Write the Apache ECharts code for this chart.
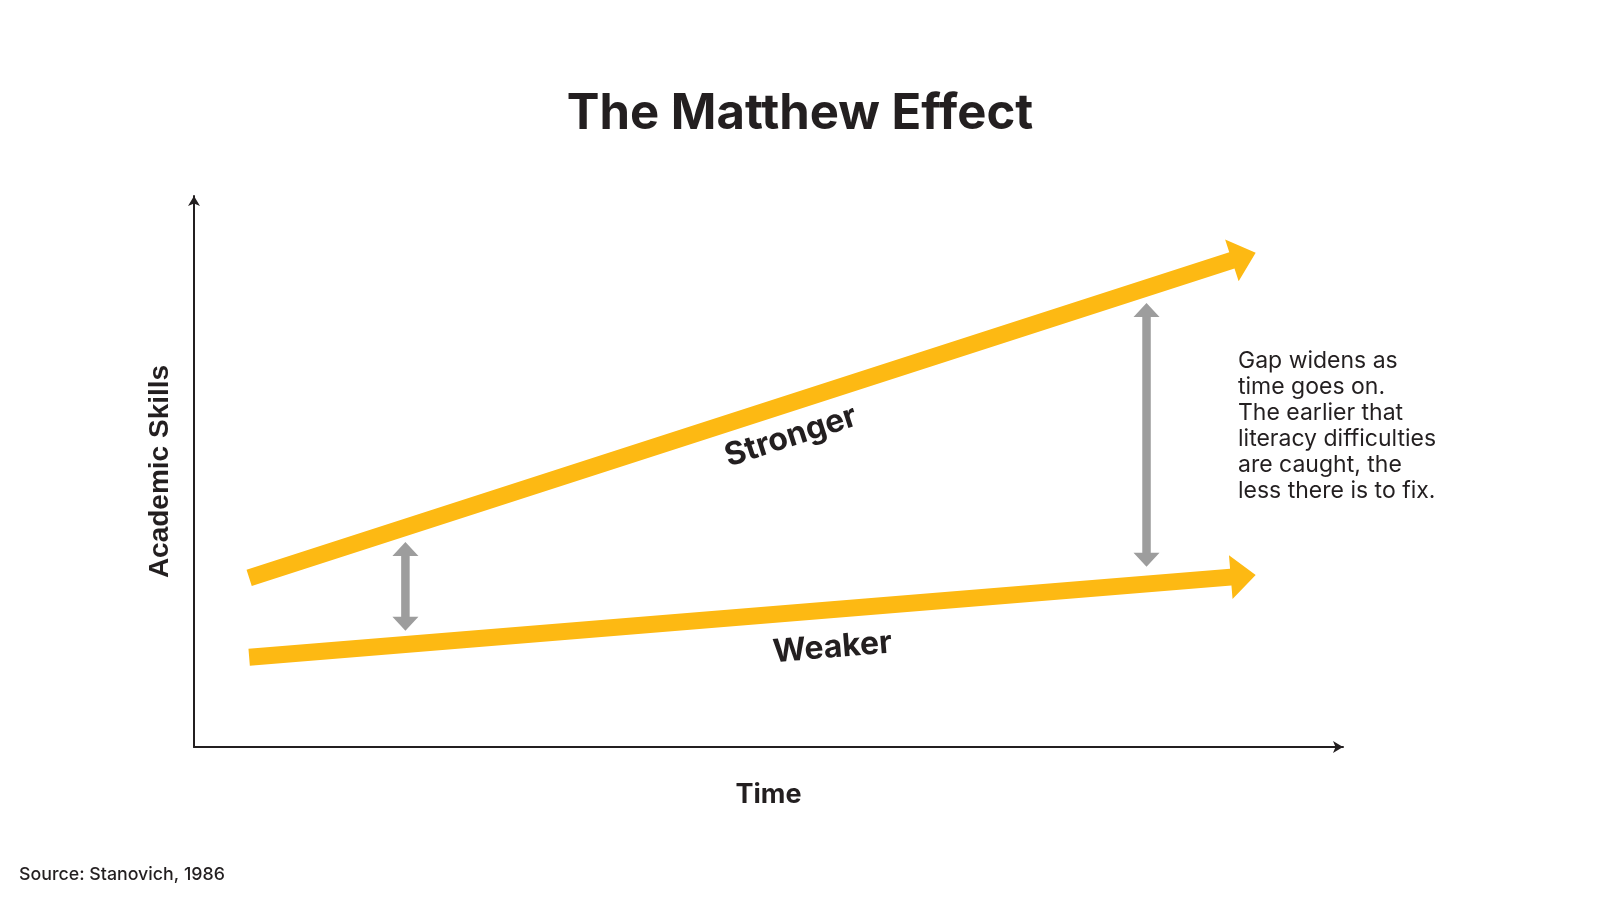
<!DOCTYPE html>
<html>
<head>
<meta charset="utf-8">
<script src="https://cdn.jsdelivr.net/npm/echarts@6/dist/echarts.min.js"></script>
<style>
html,body{margin:0;padding:0;background:#fff;}
#chart{width:1600px;height:900px;}
</style>
</head>
<body>
<div id="chart"></div>
<script>
// ---- data ----
const trendNames = ['Stronger', 'Weaker'];
const trendStartX = [4.8, 4.8];
const trendStartY = [30.7, 16.3];
const trendEndX = [92.4, 92.4];
const trendEndY = [89.7, 31.2];
const trendLabelX = [51.1, 55.3];

const gapX = [18.4, 82.9];
const gapTop = [37.2, 80.6];
const gapBottom = [21.1, 32.7];

const titleText = 'The Matthew Effect';
const xAxisName = 'Time';
const yAxisName = 'Academic Skills';
const noteLines = ['Gap widens as', 'time goes on.', 'The earlier that', 'literacy difficulties', 'are caught, the', 'less there is to fix.'];
const sourceText = 'Source: Stanovich, 1986';

// ---- style ----
const YELLOW = '#FDB913';
const GRAY = '#9D9D9D';
const INK = '#231F20';
const FONT = 'Inter, Lato, sans-serif';
const trendLabelOffset = [32, 38];

const trendData = trendNames.map((n, i) => [trendStartX[i], trendStartY[i], trendEndX[i], trendEndY[i], trendLabelX[i], i]);
const gapData = gapX.map((x, i) => [x, gapTop[i], gapBottom[i]]);

function trendItem(params, api) {
  const p0 = api.coord([api.value(0), api.value(1)]);
  const p1 = api.coord([api.value(2), api.value(3)]);
  const idx = api.value(5);
  const dx = p1[0] - p0[0], dy = p1[1] - p0[1];
  const len = Math.sqrt(dx * dx + dy * dy);
  const ux = dx / len, uy = dy / len;
  const nx = -uy, ny = ux;
  const w = 17, headLen = 25, headW = 44;
  const bx = p1[0] - ux * headLen, by = p1[1] - uy * headLen;
  const pts = [
    [p0[0] - nx * w / 2, p0[1] - ny * w / 2],
    [bx - nx * w / 2, by - ny * w / 2],
    [bx - nx * headW / 2, by - ny * headW / 2],
    [p1[0], p1[1]],
    [bx + nx * headW / 2, by + ny * headW / 2],
    [bx + nx * w / 2, by + ny * w / 2],
    [p0[0] + nx * w / 2, p0[1] + ny * w / 2]
  ];
  const lx = api.value(4);
  const t = (lx - api.value(0)) / (api.value(2) - api.value(0));
  const ly = api.value(1) + t * (api.value(3) - api.value(1));
  const lp = api.coord([lx, ly]);
  const off = trendLabelOffset[idx];
  const angle = Math.atan2(-dy, dx);
  return {
    type: 'group',
    children: [
      { type: 'polygon', shape: { points: pts }, style: { fill: YELLOW } },
      {
        type: 'text',
        x: lp[0] + nx * off, y: lp[1] + ny * off,
        rotation: angle,
        style: {
          text: trendNames[idx], x: 0, y: 0,
          align: 'center', verticalAlign: 'middle',
          font: 'bold 32px ' + FONT, fill: INK
        }
      }
    ]
  };
}

function gapItem(params, api) {
  const pt = api.coord([api.value(0), api.value(1)]);
  const pb = api.coord([api.value(0), api.value(2)]);
  const x = pt[0];
  const sw = 8.5, hw = 26, hl = 14;
  const pts = [
    [x, pt[1]],
    [x + hw / 2, pt[1] + hl],
    [x + sw / 2, pt[1] + hl],
    [x + sw / 2, pb[1] - hl],
    [x + hw / 2, pb[1] - hl],
    [x, pb[1]],
    [x - hw / 2, pb[1] - hl],
    [x - sw / 2, pb[1] - hl],
    [x - sw / 2, pt[1] + hl],
    [x - hw / 2, pt[1] + hl]
  ];
  return { type: 'polygon', shape: { points: pts }, style: { fill: GRAY } };
}

const chart = echarts.init(document.getElementById('chart'), null, { renderer: 'canvas' });
chart.setOption({
  backgroundColor: '#ffffff',
  animation: false,
  title: [
    {
      text: titleText, left: 'center', top: 85,
      textStyle: { fontFamily: FONT, fontWeight: 'bold', fontSize: 49, color: INK }
    },
    {
      text: noteLines.join('\n'), left: 1233, top: 343,
      textStyle: { fontFamily: FONT, fontWeight: 'normal', fontSize: 23, lineHeight: 26, color: INK }
    },
    {
      text: sourceText, left: 14, top: 861,
      textStyle: { fontFamily: FONT, fontWeight: 500, fontSize: 17.8, color: INK }
    }
  ],
  grid: { left: 194, right: 257, top: 196, bottom: 153 },
  xAxis: {
    type: 'value', min: 0, max: 100,
    name: xAxisName, nameLocation: 'middle', nameGap: 34,
    nameTextStyle: { fontFamily: FONT, fontWeight: 'bold', fontSize: 27, color: INK },
    axisLine: { show: true, onZero: false, symbol: ['none', 'arrow'], symbolSize: [9, 10], lineStyle: { color: INK, width: 2 } },
    axisTick: { show: false }, axisLabel: { show: false }, splitLine: { show: false }
  },
  yAxis: {
    type: 'value', min: 0, max: 100,
    name: yAxisName, nameLocation: 'middle', nameGap: 20, nameRotate: 90,
    nameTextStyle: { fontFamily: '"Liberation Sans", Arial, sans-serif', fontWeight: 'bold', fontSize: 28, color: INK },
    axisLine: { show: true, onZero: false, symbol: ['none', 'arrow'], symbolSize: [9, 10], lineStyle: { color: INK, width: 2 } },
    axisTick: { show: false }, axisLabel: { show: false }, splitLine: { show: false }
  },
  series: [
    { type: 'custom', name: 'trends', renderItem: trendItem, data: trendData, silent: true },
    { type: 'custom', name: 'gaps', renderItem: gapItem, data: gapData, silent: true }
  ]
});
</script>
</body>
</html>
